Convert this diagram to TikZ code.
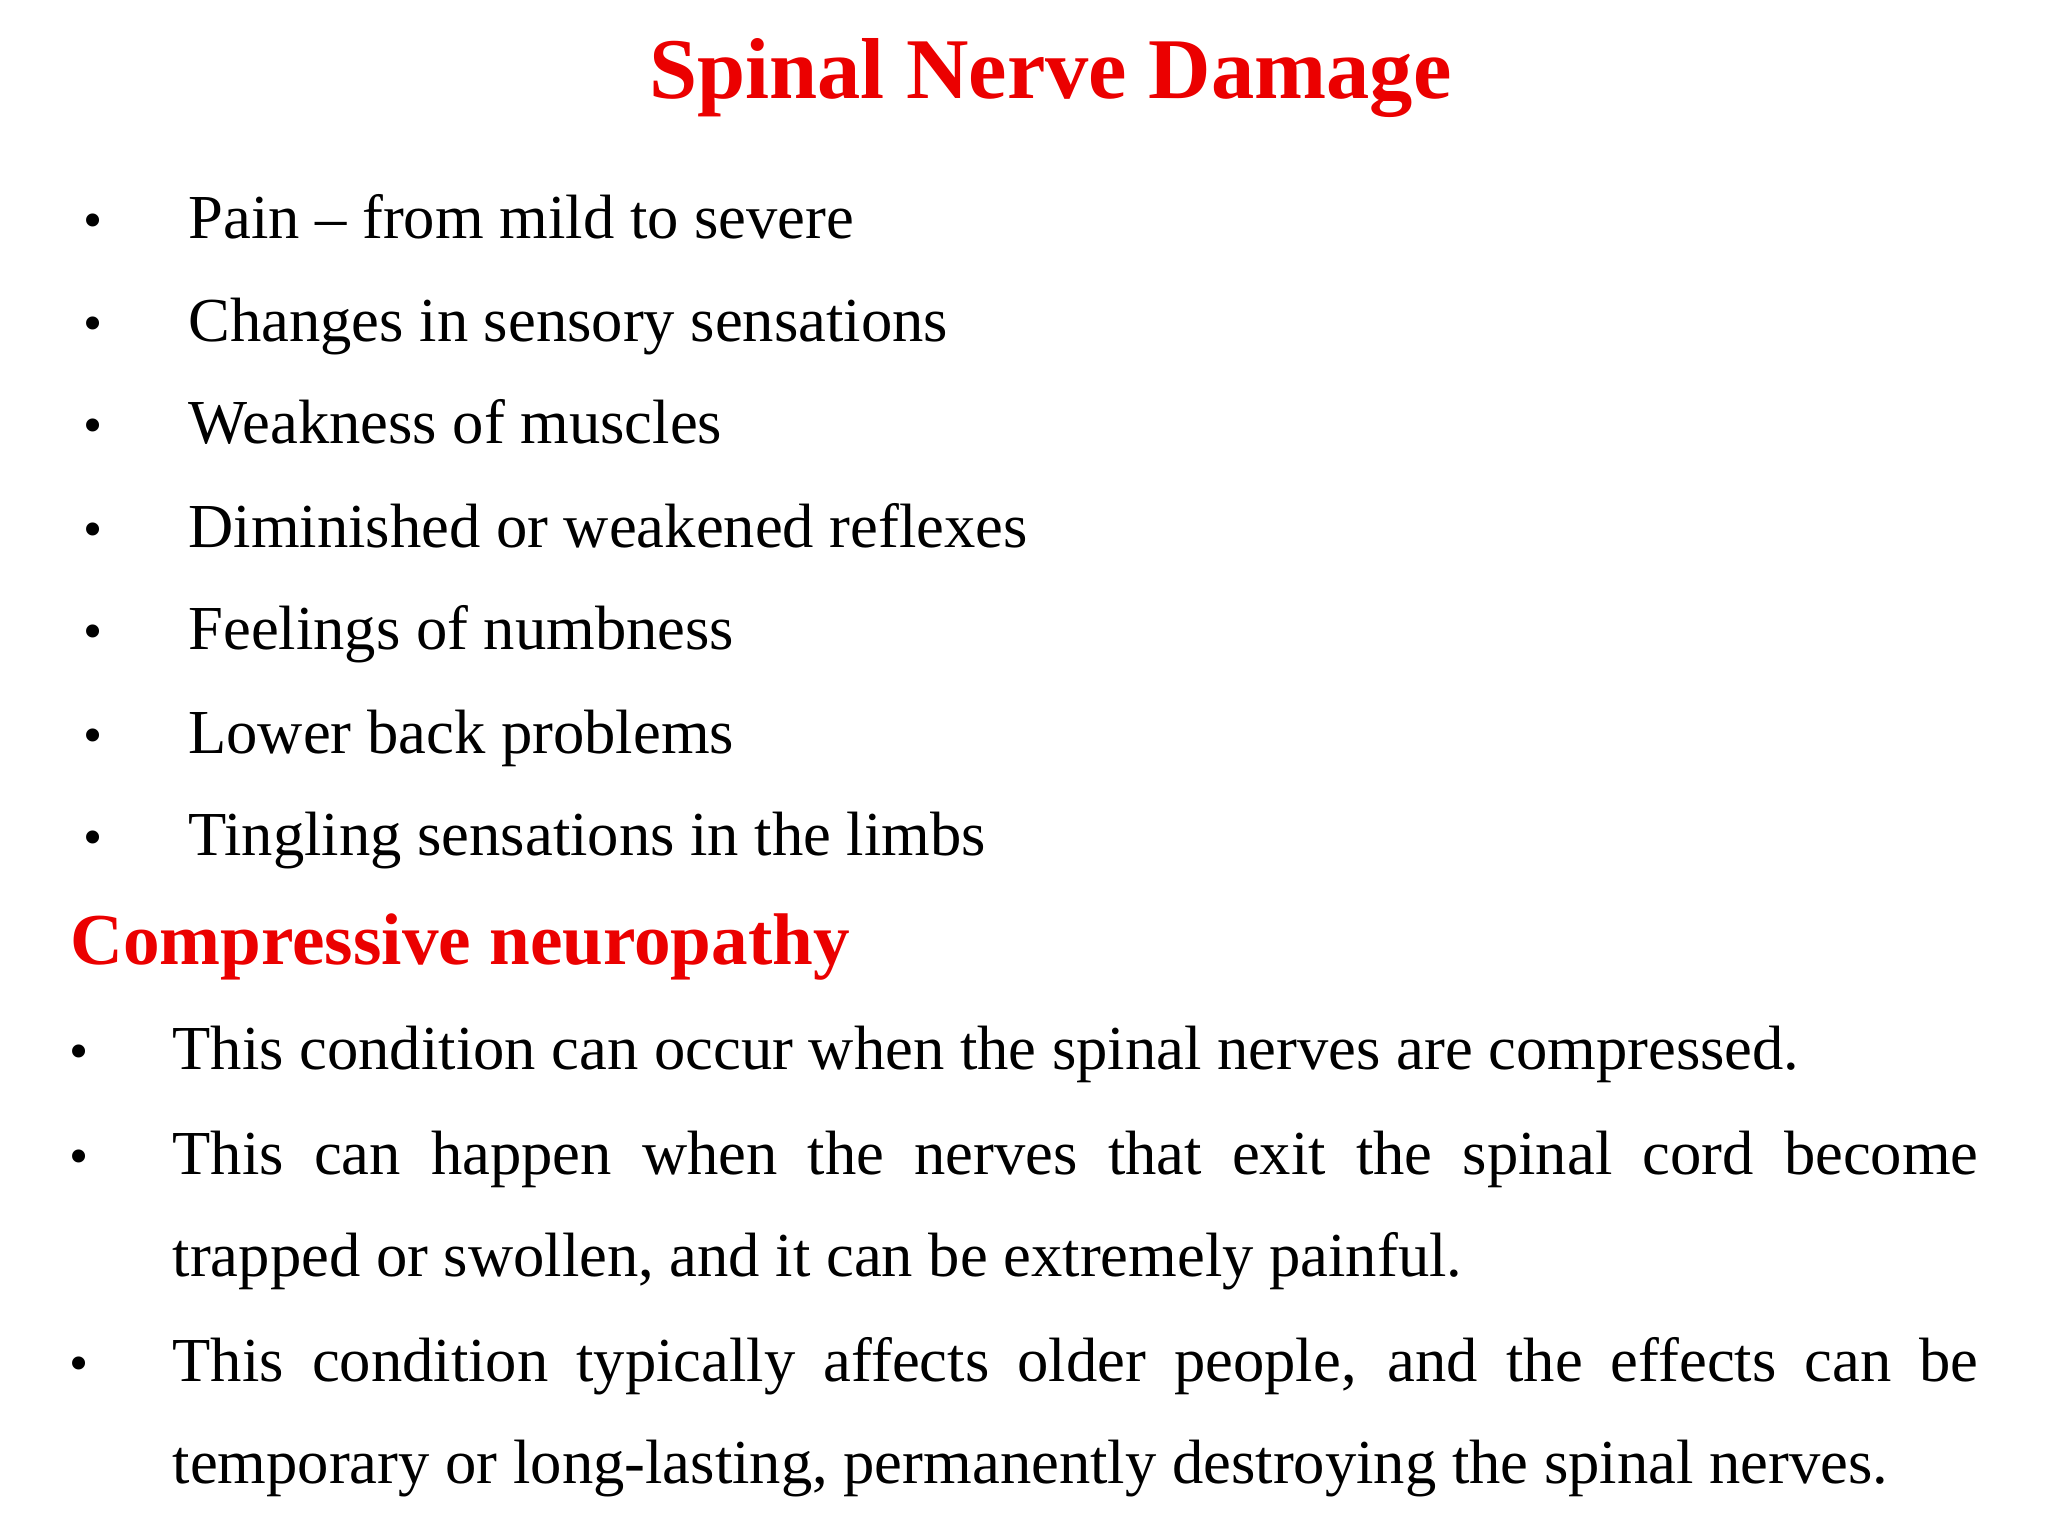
\documentclass[tikz,border=0pt]{standalone}
\usepackage{fontspec}
\setmainfont{Liberation Serif}
\definecolor{hred}{RGB}{235,0,0}
\begin{document}
\begin{tikzpicture}[x=0.01313cm,y=-0.01313cm,
  body/.style={anchor=base west,inner sep=0pt,font=\fontsize{17.8}{29}\selectfont},
  bul/.style={anchor=base,inner sep=0pt,font=\fontsize{15.5}{29}\selectfont}]
\useasboundingbox (0,0) rectangle (1560,1170);
\node[anchor=base,inner sep=0pt,text=hred,font=\fontsize{24.6}{30}\selectfont\bfseries] (t) at (800,75) {Spinal Nerve Damage};
\foreach \y/\s [count=\i] in {182/Pain – from mild to severe,260/Changes in sensory sensations,338/Weakness of muscles,417/Diminished or weakened reflexes,495/Feelings of numbness,574/Lower back problems,652/Tingling sensations in the limbs}{
  \node[bul] (b\i) at (71,\y) {•};
  \node[body] (s\i) at (143,\y) {\s};
}
\node[anchor=base west,inner sep=0pt,text=hred,font=\fontsize{20.8}{26}\selectfont\bfseries] (h) at (53,735) {Compressive neuropathy};
\node[bul] (c1) at (60,815) {•};
\node[body] (p1) at (131,815) {This condition can occur when the spinal nerves are compressed.};
\node[bul] (c2) at (60,895) {•};
\node[body,anchor=north west,text width=18.05cm,align=justify] (p2) at (131,861) {This can happen when the nerves that exit the spinal cord become\linebreak trapped or swollen, and it can be extremely painful.};
\node[bul] (c3) at (60,1052) {•};
\node[body,anchor=north west,text width=18.05cm,align=justify] (p3) at (131,1018) {This condition typically affects older people, and the effects can be\linebreak temporary or long-lasting, permanently destroying the spinal nerves.};
\end{tikzpicture}
\end{document}
